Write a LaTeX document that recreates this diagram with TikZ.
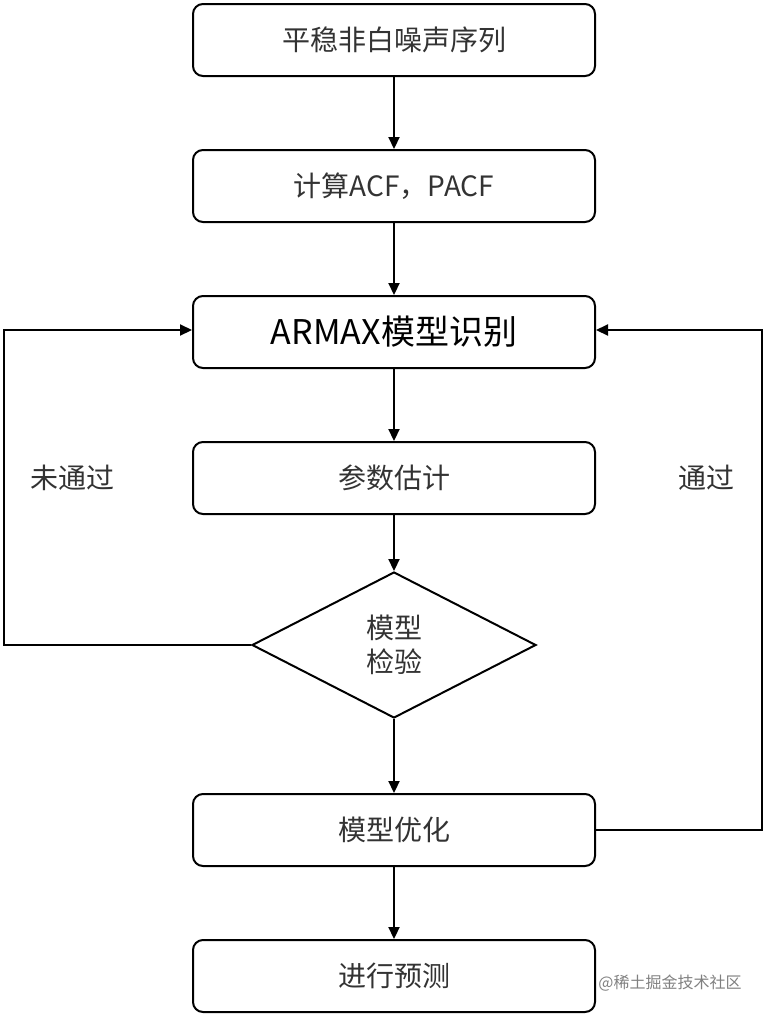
\documentclass[tikz,border=0pt]{standalone}
\usepackage{fontspec}
\setmainfont{Noto Sans CJK SC}
\usetikzlibrary{shapes.geometric,arrows.meta}
\begin{document}
\begin{tikzpicture}[x=1pt,y=-1pt,
  box/.style={draw,line width=2pt,rounded corners=10pt,minimum width=402pt,minimum height=72pt,font=\fontsize{28}{32}\selectfont,text=black!80},
  arr/.style={line width=2.2pt,-{Triangle[length=12pt,width=11pt]}},
  lbl/.style={font=\fontsize{28}{32}\selectfont,text=black!80}]
\useasboundingbox (0,0) rectangle (766,1017);
\node[box] (b1) at (394,40) {平稳非白噪声序列};
\node[box] (b2) at (394,186) {计算ACF，PACF};
\node[box,font=\fontsize{34}{38}\selectfont,text=black] (b3) at (394,332) {ARMAX模型识别};
\node[box] (b4) at (394,478) {参数估计};
\node[draw,line width=2pt,diamond,minimum width=284pt,minimum height=146pt,inner sep=0pt,font=\fontsize{28}{34}\selectfont,text=black!80,align=center] (d) at (394,645) {模型\\检验};
\node[box] (b5) at (394,830) {模型优化};
\node[box] (b6) at (394,976) {进行预测};
\draw[arr] (b1) -- (b2);
\draw[arr] (b2) -- (b3);
\draw[arr] (b3) -- (b4);
\draw[arr] (b4) -- (d);
\draw[arr] (d) -- (b5);
\draw[arr] (b5) -- (b6);
\coordinate (l1) at (4,645); \coordinate (l2) at (4,330);
\coordinate (r1) at (762,830); \coordinate (r2) at (762,330);
\draw[arr] (d.west) -- (l1) -- (l2) -- (b3.west|-l2);
\draw[arr] (b5.east) -- (r1) -- (r2) -- (b3.east|-r2);
\node[lbl] (n1) at (72,478) {未通过};
\node[lbl] (n2) at (706,478) {通过};
\node[font=\fontsize{16}{18}\selectfont,text=black!50] (w) at (670,983) {@稀土掘金技术社区};
\end{tikzpicture}
\end{document}
